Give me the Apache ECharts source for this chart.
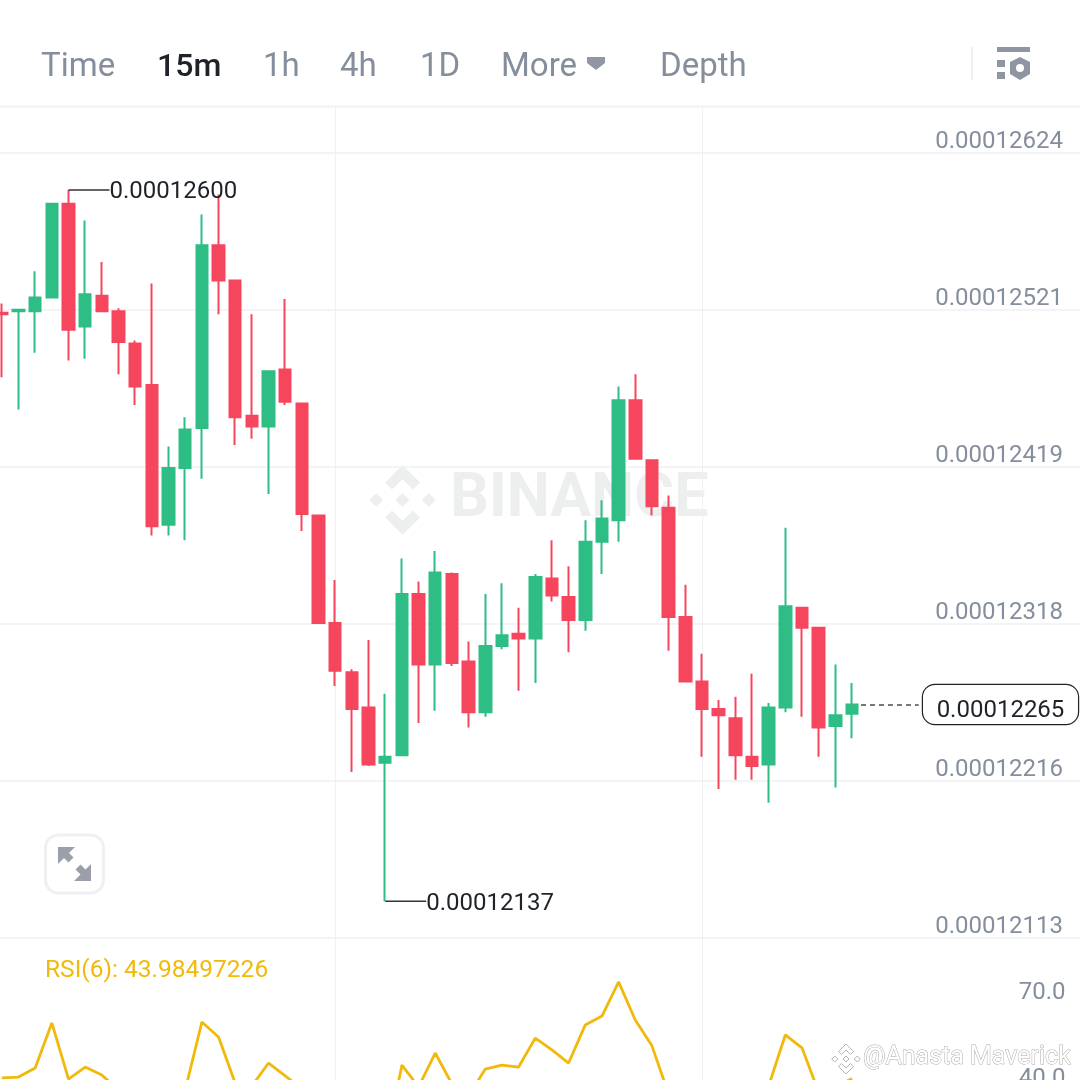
<!DOCTYPE html>
<html lang="en">
<head>
<meta charset="UTF-8">
<title>15m chart</title>
<script src="https://cdn.jsdelivr.net/npm/echarts@6/dist/echarts.min.js"></script>
<style>
  html, body { margin: 0; padding: 0; background: #fff; }
  #chart { width: 1080px; height: 1080px; }
</style>
</head>
<body>
<div id="chart"></div>
<script>
// prices are in units of 0.00000001
var opens = [12520,12521,12521,12530,12591,12511,12531,12521,12500,12473,12382,12419,12445,12564,12541,12453,12446,12483,12461,12388,12318,12286,12263,12227,12232,12337,12291,12350,12293,12260,12303,12311,12308,12347,12335,12320,12371,12385,12463,12424,12393,12322,12280,12262,12256,12231,12226,12263,12328,12315,12251,12259];
var closes = [12519,12522,12530,12591,12509,12532,12521,12501,12472,12381,12419,12444,12564,12541,12452,12446,12482,12462,12389,12318,12287,12262,12226,12231,12337,12291,12351,12292,12260,12303,12310,12308,12348,12336,12320,12371,12386,12463,12425,12394,12322,12280,12262,12258,12232,12225,12263,12329,12315,12250,12258,12265];
var lows = [12478,12457,12494,12530,12489,12490,12521,12480,12460,12375,12375,12372,12412,12519,12434,12438,12402,12460,12378,12318,12277,12221,12225,12137,12232,12253,12261,12290,12250,12257,12301,12274,12279,12332,12299,12313,12350,12371,12425,12388,12300,12280,12231,12210,12216,12216,12201,12260,12257,12231,12211,12243];
var highs = [12526,12522,12547,12591,12600,12580,12553,12523,12502,12539,12433,12452,12584,12597,12541,12519,12482,12529,12461,12388,12346,12288,12307,12272,12360,12345,12365,12351,12306,12337,12344,12328,12350,12372,12355,12385,12398,12472,12480,12424,12401,12343,12298,12268,12270,12285,12266,12380,12328,12315,12291,12279];
var rsiValues = [44.2,44.5,47.7,63.4,43.8,48.0,45.2,40,35,28,33,40,63.7,58.5,42.4,41.4,49.4,44.9,40.4,25,22,20,18,20,48.7,41.1,52.9,42.1,37.9,47.3,48.7,48.0,58.1,54.0,49.4,62.7,65.8,77.7,64.4,55.4,38.6,30,26,25,24,26,41.4,59.2,54.7,39.3,41,43.98];

var priceTicks = [12113,12215.2,12317.4,12419.6,12521.8,12624];
var priceTickLabels = ["0.00012113","0.00012216","0.00012318","0.00012419","0.00012521","0.00012624"];
var rsiTicks = [40,70];
var rsiLabel = "RSI(6): 43.98497226";
var timeLines = [20,42];
var highIndex = 4, lowIndex = 23, lastIndex = 51;

var toolbarLabels = ["Time","15m","1h","4h","1D","More","Depth"];
var toolbarX = [41,157,263,340,420,501,660];

// room for the empty slots to the right of the last candle
var slots = [];
for (var i = 0; i < 66; i++) { slots.push(String(i)); }

var font = "Roboto, sans-serif";
var grey = "#848E9C";
var dark = "#1E2329";
var up = "#2EBD85";
var down = "#F6465D";
var gridColor = "#F0F1F3";
var vLine = "#EEF0F5";
var mark = "#EDEFEF";

function priceText(v) { return (v / 1e8).toFixed(8); }

function poly(points, fill, z) {
  return { type: "polygon", z: z, silent: true, shape: { points: points }, style: { fill: fill } };
}
function rect(x, y, w, h, fill) {
  return { type: "rect", z: 10, silent: true, shape: { x: x, y: y, width: w, height: h }, style: { fill: fill } };
}

var graphics = [];

// toolbar
toolbarLabels.forEach(function (t, i) {
  graphics.push({
    type: "text", x: toolbarX[i], y: 68, z: 10, silent: true,
    style: { text: t, fill: t === "15m" ? dark : grey, font: (t === "15m" ? "500 32px " : "33px ") + font, verticalAlign: "middle" }
  });
});
graphics.push(poly([[587,57],[605,57],[605,63],[596,70],[587,63]], "#9097A3", 10));
graphics.push(rect(971, 47, 2, 33, "#EEF0F2"));
graphics.push(rect(997, 47, 33, 5, "#8F96A2"));
graphics.push(rect(997, 60, 8, 7, "#8F96A2"));
graphics.push(rect(997, 72, 8, 7, "#8F96A2"));
graphics.push(poly([[1020,57],[1030,62],[1030,74],[1020,80],[1010,74],[1010,62]], "#8F96A2", 10));
graphics.push({ type: "circle", z: 11, silent: true, shape: { cx: 1020, cy: 68, r: 4 }, style: { fill: "#fff" } });
graphics.push(rect(0, 105, 1080, 3, "#F5F5F5"));

// expand button
graphics.push({
  type: "rect", z: 10, silent: true, shape: { x: 45.5, y: 835, width: 58, height: 58, r: 13 },
  style: { fill: "#fff", stroke: "#EEF0F3", lineWidth: 3 }
});
graphics.push(poly([[58,847],[75,847],[58,864]], "#9A9FA9", 11));
graphics.push(poly([[91,881],[74,881],[91,864]], "#9A9FA9", 11));
graphics.push({ type: "line", z: 11, silent: true, shape: { x1: 64, y1: 853, x2: 71, y2: 860 }, style: { stroke: "#9A9FA9", lineWidth: 7 } });
graphics.push({ type: "line", z: 11, silent: true, shape: { x1: 78, y1: 867, x2: 85, y2: 874 }, style: { stroke: "#9A9FA9", lineWidth: 7 } });

// RSI title
graphics.push({
  type: "text", x: 45, y: 971, z: 10, silent: true,
  style: { text: rsiLabel, fill: "#F0B90B", font: "24.5px " + font, verticalAlign: "middle" }
});

// BINANCE watermark behind the candles
function logo(cx, cy, R, fill, stroke) {
  var st = stroke ? { fill: fill, stroke: stroke, lineWidth: 1 } : { fill: fill };
  var z = stroke ? 12 : 0;
  var shapes = [
    [[0,-1],[.5,-.5],[.3,-.3],[0,-.6],[-.3,-.3],[-.5,-.5]],
    [[0,1],[.5,.5],[.3,.3],[0,.6],[-.3,.3],[-.5,.5]],
    [[-.2,0],[0,-.2],[.2,0],[0,.2]],
    [[-.95,0],[-.75,-.2],[-.55,0],[-.75,.2]],
    [[.95,0],[.75,-.2],[.55,0],[.75,.2]]
  ];
  shapes.forEach(function (s) {
    graphics.push({
      type: "polygon", z: z, silent: true,
      shape: { points: s.map(function (p) { return [cx + p[0] * R, cy + p[1] * R]; }) },
      style: st
    });
  });
}
logo(402.5, 500, 35, mark);
graphics.push({
  type: "text", x: 450, y: 501, z: 0, silent: true,
  style: { text: "BINANCE", fill: mark, font: "bold 61px " + font, verticalAlign: "middle" }
});

// corner credit
logo(846, 1059, 15, "#fff", "#B5B5B5");
graphics.push({
  type: "text", x: 863, y: 1058, z: 12, silent: true,
  style: { text: "@Anasta Maverick", fill: "#fff", stroke: "#ABABAB", lineWidth: 1, font: "25px " + font, verticalAlign: "middle" }
});

var candleData = opens.map(function (o, i) {
  return [o, closes[i], lows[i], highs[i]];
});

function extremeLabel(value, dy) {
  return {
    show: true, position: "right", distance: 0, offset: [0, dy],
    color: dark, fontSize: 24, fontFamily: font,
    formatter: priceText(value)
  };
}

var option = {
  animation: false,
  backgroundColor: "#fff",
  graphic: graphics,
  grid: [
    { left: -6.5, top: 106, width: 1100.2, height: 832, outerBoundsMode: "none" },
    { left: -6.5, top: 938, width: 1100.2, height: 238, outerBoundsMode: "none" }
  ],
  xAxis: [
    { type: "category", gridIndex: 0, data: slots, show: false },
    { type: "category", gridIndex: 1, data: slots, show: false }
  ],
  yAxis: [
    {
      type: "value", gridIndex: 0, position: "right", min: 12113, max: 12654.6,
      axisLine: { show: false },
      axisTick: { show: false, customValues: priceTicks },
      splitLine: { show: true, lineStyle: { color: gridColor, width: 1.5 } },
      axisLabel: {
        inside: true, margin: 30.7, verticalAlign: "bottom", lineHeight: 22,
        color: grey, fontSize: 24, fontFamily: font,
        customValues: priceTicks,
        formatter: function (v) {
          return priceTickLabels[priceTicks.indexOf(v)];
        }
      }
    },
    {
      type: "value", gridIndex: 1, position: "right", min: 10, max: 93.02,
      axisLine: { show: false },
      axisTick: { show: false, customValues: rsiTicks },
      splitLine: { show: false },
      axisLabel: {
        inside: true, margin: 28.2, verticalAlign: "bottom", lineHeight: 22,
        color: grey, fontSize: 24, fontFamily: font,
        customValues: rsiTicks,
        formatter: function (v) { return v.toFixed(1); }
      }
    }
  ],
  series: [
    {
      type: "candlestick",
      xAxisIndex: 0,
      yAxisIndex: 0,
      data: candleData,
      barWidth: 12,
      itemStyle: { color: up, color0: down, borderColor: up, borderColor0: down, borderWidth: 2 },
      markLine: {
        silent: true, z: 1, symbol: "none", animation: false,
        label: { show: false },
        data: [
          { xAxis: timeLines[0], lineStyle: { color: vLine, width: 1, type: "solid" } },
          { xAxis: timeLines[1], lineStyle: { color: vLine, width: 1, type: "solid" } },
          [
            { coord: [lastIndex, closes[lastIndex]], lineStyle: { color: "#474D57", width: 1.5, type: [5, 4] } },
            { coord: [lastIndex + 4, closes[lastIndex]] }
          ]
        ]
      },
      markPoint: {
        silent: true, animation: false,
        data: [
          {
            coord: [highIndex, highs[highIndex]],
            symbol: "rect", symbolSize: [41, 1.5], symbolOffset: [20.5, 0],
            itemStyle: { color: "#333" },
            label: extremeLabel(highs[highIndex], 2)
          },
          {
            coord: [lowIndex, lows[lowIndex]],
            symbol: "rect", symbolSize: [41, 1.5], symbolOffset: [20.5, 0],
            itemStyle: { color: "#333" },
            label: extremeLabel(lows[lowIndex], 3)
          },
          // last price box, then its text a little below the middle
          {
            coord: [lastIndex, closes[lastIndex]],
            symbol: "rect", symbolSize: [157, 41], symbolOffset: [148.5, 0],
            itemStyle: { color: "#fff" },
            label: {
              show: true, position: "inside", width: 155, height: 39,
              backgroundColor: "#fff", borderColor: dark, borderWidth: 1.2, borderRadius: 12,
              formatter: " "
            }
          },
          {
            coord: [lastIndex, closes[lastIndex]],
            symbol: "rect", symbolSize: [1, 1], symbolOffset: [148.5, 7],
            itemStyle: { color: "#fff" },
            label: {
              show: true, position: "inside",
              color: dark, fontSize: 24, fontFamily: font,
              formatter: priceText(closes[lastIndex])
            }
          }
        ]
      }
    },
    {
      type: "line",
      xAxisIndex: 1,
      yAxisIndex: 1,
      data: rsiValues,
      showSymbol: false,
      symbol: "none",
      lineStyle: { color: "#F0B90B", width: 2.8 },
      markLine: {
        silent: true, z: 1, symbol: "none", animation: false,
        label: { show: false },
        lineStyle: { color: vLine, width: 1, type: "solid" },
        data: [{ xAxis: timeLines[0] }, { xAxis: timeLines[1] }]
      }
    }
  ]
};

var myChart = echarts.init(document.getElementById("chart"));
myChart.setOption(option);
</script>
</body>
</html>
